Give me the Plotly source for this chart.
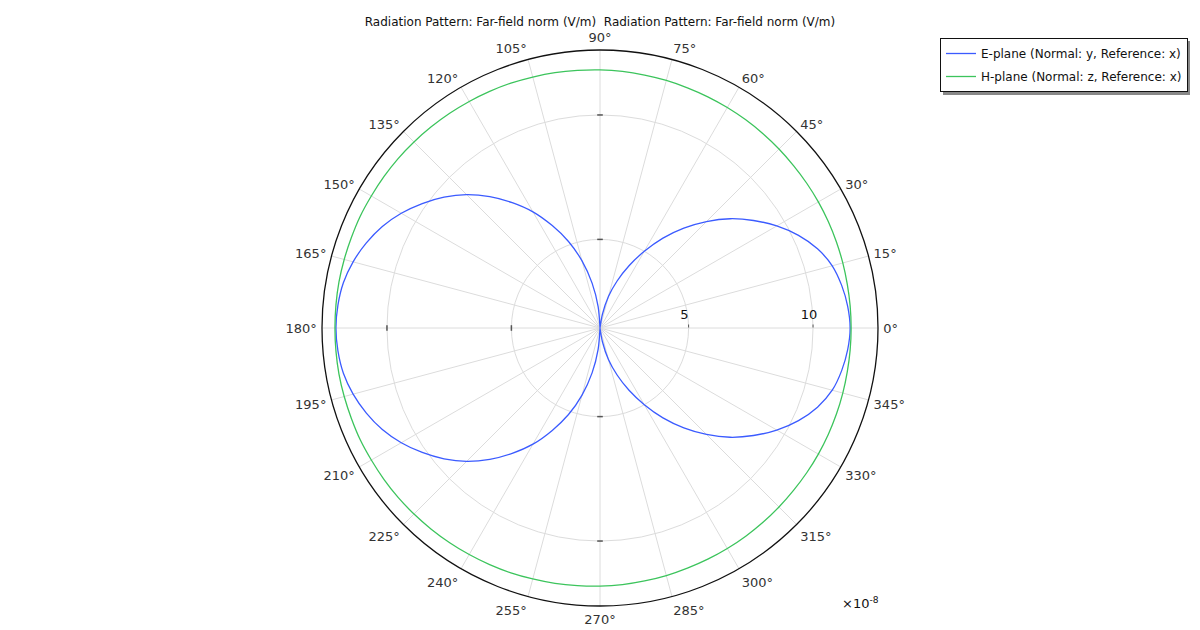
import plotly.graph_objects as go

# ---- data (values in units of 1e-8 V/m) ----
theta_deg = list(range(0, 365, 5))

e_plane = [11.49, 11.43, 11.30, 11.10, 10.74, 10.24, 9.64, 8.97, 8.27, 7.49,
           6.68, 5.85, 5.00, 4.20, 3.45, 2.75, 2.00, 1.44, 1.44, 2.30,
           3.27, 4.23, 5.14, 5.98, 6.83, 7.59, 8.33, 9.02, 9.62, 10.16,
           10.66, 11.09, 11.43, 11.71, 11.91, 12.01, 12.05, 12.01, 11.91, 11.71,
           11.43, 11.09, 10.66, 10.16, 9.62, 9.02, 8.33, 7.59, 6.83, 5.98,
           5.14, 4.23, 3.27, 2.30, 1.44, 1.44, 2.00, 2.75, 3.45, 4.20,
           5.00, 5.85, 6.68, 7.49, 8.27, 8.97, 9.64, 10.24, 10.74, 11.10,
           11.30, 11.43, 11.49]

h_plane = [11.53, 11.53, 11.53, 11.54, 11.55, 11.56, 11.57, 11.58, 11.59, 11.61,
           11.63, 11.65, 11.67, 11.69, 11.71, 11.74, 11.76, 11.79, 11.81, 11.83,
           11.86, 11.88, 11.91, 11.93, 11.95, 11.97, 11.99, 12.01, 12.03, 12.04,
           12.05, 12.07, 12.07, 12.08, 12.09, 12.09, 12.09, 12.09, 12.09, 12.08,
           12.07, 12.07, 12.05, 12.04, 12.03, 12.01, 11.99, 11.97, 11.95, 11.93,
           11.91, 11.88, 11.86, 11.83, 11.81, 11.79, 11.76, 11.74, 11.71, 11.69,
           11.67, 11.65, 11.63, 11.61, 11.59, 11.58, 11.57, 11.56, 11.55, 11.54,
           11.53, 11.53, 11.53]

series_names = ["E-plane (Normal: y, Reference: x)", "H-plane (Normal: z, Reference: x)"]
radial_range = [1.44, 12.61]
radial_ticks = [5, 10]
angle_ticks = list(range(0, 360, 15))
cardinal_angles = [0, 90, 180, 270]
title_text = "Radiation Pattern: Far-field norm (V/m)  Radiation Pattern: Far-field norm (V/m)"

FONT = "DejaVu Sans"

fig = go.Figure()
fig.add_trace(go.Scatterpolar(r=e_plane, theta=theta_deg, mode="lines", name=series_names[0],
                              legendgroup="e", subplot="polar2",
                              line=dict(color="#3b5bff", width=1.3, shape="spline", smoothing=0.8)))
fig.add_trace(go.Scatterpolar(r=h_plane, theta=theta_deg, mode="lines", name=series_names[1],
                              legendgroup="h", subplot="polar2",
                              line=dict(color="#3cc45c", width=1.3, shape="spline", smoothing=0.8)))
# small radial tick marks on the other three cardinal directions
tick_r = [t for a in cardinal_angles[1:] for t in radial_ticks]
tick_th = [a for a in cardinal_angles[1:] for t in radial_ticks]
tick_sym = ["line-ns" if a == 180 else "line-ew" for a in tick_th]
fig.add_trace(go.Scatterpolar(r=tick_r, theta=tick_th, mode="markers", subplot="polar2",
                              showlegend=False, hoverinfo="skip",
                              marker=dict(symbol=tick_sym, size=4,
                                          line=dict(width=1.5, color="#555"))))

cx, cy, R = 600, 328, 278
W, H = 1200, 630
dom = dict(x=[(cx - R) / W, (cx + R) / W], y=[(H - cy - R) / H, (H - cy + R) / H])

fig.update_layout(
    width=W, height=H,
    margin=dict(l=0, r=0, t=0, b=0),
    paper_bgcolor="white",
    font=dict(family=FONT, size=12, color="#222"),
    title=dict(text=title_text, x=0.5, xanchor="center", y=1 - 22 / H, yanchor="middle",
               font=dict(family=FONT, size=12, color="#111")),
    # underlying subplot: thicker cardinal axis lines
    polar=dict(
        domain=dom, bgcolor="white",
        angularaxis=dict(direction="counterclockwise", rotation=0,
                         tickmode="array", tickvals=cardinal_angles,
                         showticklabels=False, ticks="",
                         showgrid=True, gridcolor="#e6e6e6", gridwidth=2.2,
                         showline=False),
        radialaxis=dict(range=radial_range, showgrid=False, showline=False,
                        showticklabels=False, ticks=""),
    ),
    polar2=dict(
        domain=dom, bgcolor="rgba(0,0,0,0)",
        angularaxis=dict(
            direction="counterclockwise", rotation=0,
            tickmode="array", tickvals=angle_ticks,
            ticktext=[f"{a}°" for a in angle_ticks],
            showgrid=True, gridcolor="#dcdcdc", gridwidth=1,
            showline=True, linecolor="#111", linewidth=1.3,
            ticks="outside", ticklen=2, tickcolor="rgba(0,0,0,0)",
            tickfont=dict(family=FONT, size=13, color="#333"),
        ),
        radialaxis=dict(
            range=radial_range, angle=0, side="counterclockwise",
            tickmode="array", tickvals=radial_ticks,
            ticktext=[f"{t}\u00a0\u00a0" for t in radial_ticks],
            showgrid=True, gridcolor="#dcdcdc", gridwidth=1,
            showline=False,
            ticks="outside", ticklen=3, tickcolor="#555",
            tickfont=dict(family=FONT, size=13, color="#111"),
        ),
    ),
    legend=dict(x=940 / W, y=1 - 38 / H, xanchor="left", yanchor="top",
                bgcolor="white", bordercolor="#111", borderwidth=1,
                tracegroupgap=4,
                font=dict(family=FONT, size=12, color="#111")),
    shapes=[dict(type="rect", xref="paper", yref="paper",
                 x0=943 / W, x1=1190 / W, y0=1 - 95 / H, y1=1 - 41 / H,
                 fillcolor="#888", line=dict(width=0), layer="below")],
    annotations=[dict(text="×10<sup>-8</sup>", xref="paper", yref="paper",
                      x=860 / W, y=1 - 603 / H, xanchor="center", yanchor="middle",
                      showarrow=False,
                      font=dict(family=FONT, size=13, color="#111"))],
)

fig.write_html("out.html")
